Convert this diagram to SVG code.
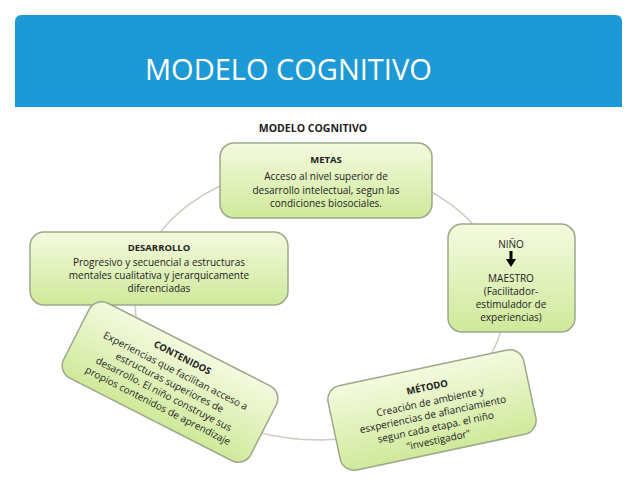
<svg xmlns="http://www.w3.org/2000/svg" width="638" height="479" viewBox="0 0 638 479">
<defs>
<linearGradient id="bx" x1="0" y1="0" x2="0" y2="1"><stop offset="0" stop-color="#f4fadf"/><stop offset="1" stop-color="#cfe99a"/></linearGradient>
<style>
.b{fill:url(#bx);stroke:#9aa98a;stroke-width:1.5}
text{font-family:"Open Sans","DejaVu Sans",sans-serif;fill:#222;text-anchor:middle;font-size:10px}
.h{font-weight:bold;font-size:9.5px}
</style>
</defs>
<rect width="638" height="479" fill="#fff"/>
<rect x="15" y="15" width="607" height="92" rx="6" fill="#1d9ad6"/>
<rect x="15" y="60" width="607" height="47" fill="#1d9ad6"/>
<text x="145" y="80" style="font-size:29px;fill:#fff;text-anchor:start">MODELO COGNITIVO</text>
<text x="313" y="132" class="h" style="font-size:10.5px">MODELO COGNITIVO</text>
<g id="connectors"><ellipse cx="320" cy="302" rx="185" ry="138" fill="none" stroke="#c8cfc0" stroke-width="1.5"/></g>
<g id="metas"><rect class="b" x="220" y="143" width="212" height="75" rx="14"/>
<text x="326" y="163" class="h">METAS</text><text x="326" y="180">Acceso al nivel superior de</text><text x="326" y="194">desarrollo intelectual, segun  las</text><text x="326" y="207">condiciones biosociales.</text></g>
<g id="desarrollo"><rect class="b" x="30" y="232" width="258" height="73" rx="14"/>
<text x="159" y="251" class="h">DESARROLLO</text><text x="159" y="266">Progresivo y secuencial a estructuras</text><text x="159" y="279">mentales cualitativa  y jerarquicamente</text><text x="159" y="292">diferenciadas</text></g>
<g id="nino"><rect class="b" x="448" y="224" width="127" height="108" rx="14"/>
<text x="511" y="248">NIÑO</text><path d="M509.5,251 h3 v8 h3.5 l-5,8 l-5,-8 h3.5 z" fill="#000"/>
<text x="511" y="282">MAESTRO</text><text x="511" y="295">(Facilitador-</text><text x="511" y="308">estimulador de</text><text x="511" y="321">experiencias)</text></g>
<g id="contenidos" transform="translate(170,382) rotate(27)"><rect class="b" x="-105" y="-42" width="210" height="84" rx="14"/>
<text x="0" y="-24" class="h">CONTENIDOS</text><text x="0" y="-9">Experiencias que facilitan acceso a</text><text x="0" y="4">estructuras superiores de</text><text x="0" y="17">desarrollo. El niño construye sus</text><text x="0" y="30">propios contenidos de aprendizaje</text></g>
<g id="metodo" transform="translate(432,410) rotate(-12)"><rect class="b" x="-100" y="-43" width="200" height="86" rx="14"/>
<text x="0" y="-20" class="h">MÉTODO</text><text x="0" y="-5">Creación de ambiente  y</text><text x="0" y="8">esxperiencias de afianciamiento</text><text x="0" y="21">segun cada etapa. el niño</text><text x="0" y="34">"investigador"</text></g>
</svg>
